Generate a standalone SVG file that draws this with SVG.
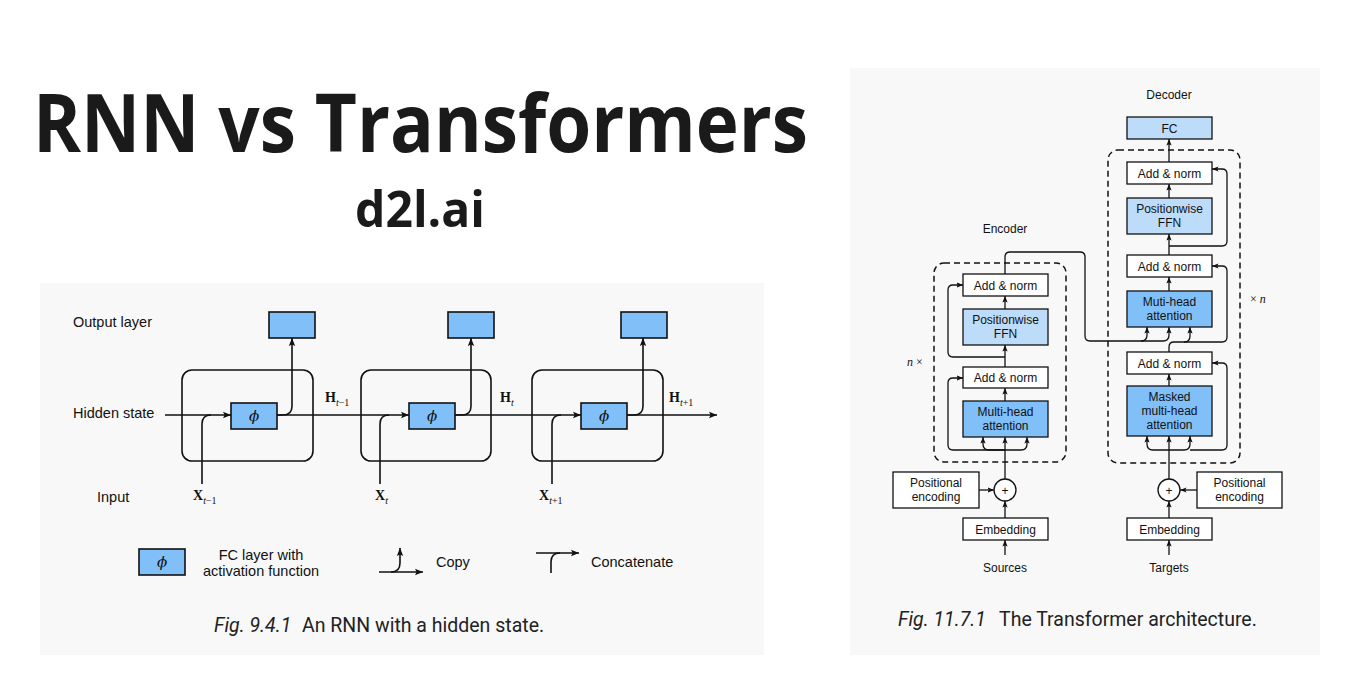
<svg xmlns="http://www.w3.org/2000/svg" width="1358" height="693" viewBox="0 0 1358 693">
<defs>
<style>
.ln{fill:none;stroke:#111;stroke-width:1.6}
.tl{fill:none;stroke:#111;stroke-width:1.3}
.cell{fill:none;stroke:#111;stroke-width:1.6}
.blue{fill:#80bff8;stroke:#111;stroke-width:1.6}
.wb{fill:#fff;stroke:#111;stroke-width:1.3}
.lb{fill:#bcdcfa;stroke:#111;stroke-width:1.3}
.db{fill:#80bff8;stroke:#111;stroke-width:1.3}
.dash{fill:none;stroke:#111;stroke-width:1.5;stroke-dasharray:6 4}
.t{font-family:"Liberation Sans",Arial,sans-serif;font-size:14.5px;fill:#111}
.s{font-family:"Liberation Sans",Arial,sans-serif;font-size:12px;fill:#111;text-anchor:middle}
.m{font-family:"Liberation Serif","DejaVu Serif",serif;fill:#111}
.phi{font-family:"DejaVu Serif","Liberation Serif",serif;font-size:15px;font-style:italic;fill:#111;text-anchor:middle}
.cap{font-family:Roboto,"Liberation Sans",sans-serif;font-size:19.5px;fill:#222}
</style>
<marker id="a" viewBox="0 0 10 10" refX="10" refY="5" markerWidth="8" markerHeight="8" markerUnits="userSpaceOnUse" orient="auto"><path d="M0,1 L10,5 L0,9 L2,5 z" fill="#111"/></marker>
<marker id="b" viewBox="0 0 10 10" refX="10" refY="5" markerWidth="6.5" markerHeight="6.5" markerUnits="userSpaceOnUse" orient="auto"><path d="M0,1 L10,5 L0,9 L2,5 z" fill="#111"/></marker>
</defs>
<rect width="1358" height="693" fill="#fff"/>
<rect x="40" y="283" width="724" height="372" fill="#f8f8f8"/>
<rect x="850" y="68" width="470" height="587" fill="#f8f8f8"/>

<g id="title">
<text x="420.5" y="152" text-anchor="middle" font-family="'Open Sans','Noto Sans',sans-serif" font-weight="bold" font-size="80" fill="#1a1a1a" textLength="775" lengthAdjust="spacingAndGlyphs">RNN vs Transformers</text>
<text x="420" y="227" text-anchor="middle" font-family="'Open Sans','Noto Sans',sans-serif" font-weight="bold" font-size="50" fill="#1a1a1a" textLength="130" lengthAdjust="spacingAndGlyphs">d2l.ai</text>
</g>

<!-- RNN -->
<g id="rnn-labels">
<text class="t" x="73" y="327">Output layer</text>
<text class="t" x="73" y="418">Hidden state</text>
<text class="t" x="97" y="502">Input</text>
</g>
<g id="cell1">
<rect class="cell" x="182" y="370" width="131" height="91" rx="10"/>
<rect class="blue" x="231" y="403" width="46" height="26"/>
<text class="phi" x="254" y="421">ϕ</text>
<rect class="blue" x="269" y="312" width="46" height="26"/>
</g>
<g id="cell2">
<rect class="cell" x="361" y="370" width="130" height="91" rx="10"/>
<rect class="blue" x="409" y="403" width="46" height="26"/>
<text class="phi" x="432" y="421">ϕ</text>
<rect class="blue" x="448" y="312" width="46" height="26"/>
</g>
<g id="cell3">
<rect class="cell" x="532" y="370" width="131" height="91" rx="10"/>
<rect class="blue" x="581" y="403" width="46" height="26"/>
<text class="phi" x="604" y="421">ϕ</text>
<rect class="blue" x="621" y="312" width="46" height="26"/>
</g>
<g id="rnn-connectors">
<path class="ln" d="M165,415 H231" marker-end="url(#a)"/>
<path class="ln" d="M277,415 H409" marker-end="url(#a)"/>
<path class="ln" d="M455,415 H581" marker-end="url(#a)"/>
<path class="ln" d="M627,415 H717" marker-end="url(#a)"/>
<path class="ln" d="M202,484 V424 Q202,415 211,415"/>
<path class="ln" d="M380,484 V424 Q380,415 389,415"/>
<path class="ln" d="M552,484 V424 Q552,415 561,415"/>
<path class="ln" d="M277,415 H283 Q292,415 292,406 V338" marker-end="url(#a)"/>
<path class="ln" d="M455,415 H462 Q471,415 471,406 V338" marker-end="url(#a)"/>
<path class="ln" d="M627,415 H634 Q643,415 643,406 V338" marker-end="url(#a)"/>
</g>
<g id="rnn-math">
<text class="m" x="325" y="402" font-size="14" font-weight="bold">H<tspan font-size="10" font-weight="normal" font-style="italic" dy="4">t</tspan><tspan font-size="10" font-weight="normal">−1</tspan></text>
<text class="m" x="500" y="402" font-size="14" font-weight="bold">H<tspan font-size="10" font-weight="normal" font-style="italic" dy="4">t</tspan></text>
<text class="m" x="669" y="402" font-size="14" font-weight="bold">H<tspan font-size="10" font-weight="normal" font-style="italic" dy="4">t</tspan><tspan font-size="10" font-weight="normal">+1</tspan></text>
<text class="m" x="193" y="500" font-size="14" font-weight="bold">X<tspan font-size="10" font-weight="normal" font-style="italic" dy="4">t</tspan><tspan font-size="10" font-weight="normal">−1</tspan></text>
<text class="m" x="375" y="500" font-size="14" font-weight="bold">X<tspan font-size="10" font-weight="normal" font-style="italic" dy="4">t</tspan></text>
<text class="m" x="539" y="500" font-size="14" font-weight="bold">X<tspan font-size="10" font-weight="normal" font-style="italic" dy="4">t</tspan><tspan font-size="10" font-weight="normal">+1</tspan></text>
</g>
<g id="legend">
<rect class="blue" x="139" y="549" width="46" height="26"/>
<text class="phi" x="162" y="567">ϕ</text>
<text class="t" x="261" y="560" text-anchor="middle">FC layer with</text>
<text class="t" x="261" y="576" text-anchor="middle">activation function</text>
<path class="ln" d="M379,572 H423" marker-end="url(#a)"/>
<path class="ln" d="M391,572 Q400,572 400,563 V548" marker-end="url(#a)"/>
<text class="t" x="436" y="567">Copy</text>
<path class="ln" d="M536,553 H579" marker-end="url(#a)"/>
<path class="ln" d="M551,573 V562 Q551,553 560,553"/>
<text class="t" x="591" y="567">Concatenate</text>
</g>
<g id="rnn-caption">
<text class="cap" x="214" y="632" font-style="italic">Fig. 9.4.1</text>
<text class="cap" x="302" y="632">An RNN with a hidden state.</text>
</g>

<!-- Transformer -->
<g id="encoder">
<text class="s" x="1005" y="233" font-size="12.5">Encoder</text>
<rect class="dash" x="934" y="263" width="132" height="199" rx="10"/>
<rect class="wb" x="963" y="274" width="85" height="22"/>
<text class="s" x="1005.5" y="289.5">Add &amp; norm</text>
<rect class="lb" x="963" y="309" width="85" height="36"/>
<text class="s" x="1005.5" y="324">Positionwise</text>
<text class="s" x="1005.5" y="338">FFN</text>
<rect class="wb" x="963" y="367" width="85" height="21"/>
<text class="s" x="1005.5" y="382">Add &amp; norm</text>
<rect class="db" x="963" y="401" width="85" height="36"/>
<text class="s" x="1005.5" y="416">Multi-head</text>
<text class="s" x="1005.5" y="430">attention</text>
<text class="m" x="907" y="366" font-size="12"><tspan font-style="italic">n</tspan> ×</text>
<circle cx="1005" cy="490" r="11" fill="#fff" stroke="#111" stroke-width="1.3"/>
<text class="s" x="1005" y="495" font-size="14">+</text>
<rect class="wb" x="893" y="472" width="86" height="36"/>
<text class="s" x="936" y="487">Positional</text>
<text class="s" x="936" y="501">encoding</text>
<rect class="wb" x="963" y="518" width="85" height="22"/>
<text class="s" x="1005.5" y="533.5">Embedding</text>
<text class="s" x="1005" y="572">Sources</text>
</g>
<g id="decoder">
<text class="s" x="1169" y="99" font-size="12.5">Decoder</text>
<rect class="lb" x="1127" y="117" width="85" height="22"/>
<text class="s" x="1169.5" y="132.5">FC</text>
<rect class="dash" x="1108" y="150" width="132" height="313" rx="10"/>
<rect class="wb" x="1127" y="162" width="85" height="22"/>
<text class="s" x="1169.5" y="177.5">Add &amp; norm</text>
<rect class="lb" x="1127" y="198" width="85" height="36"/>
<text class="s" x="1169.5" y="213">Positionwise</text>
<text class="s" x="1169.5" y="227">FFN</text>
<rect class="wb" x="1127" y="255" width="85" height="22"/>
<text class="s" x="1169.5" y="270.5">Add &amp; norm</text>
<rect class="db" x="1127" y="291" width="85" height="36"/>
<text class="s" x="1169.5" y="306">Muti-head</text>
<text class="s" x="1169.5" y="320">attention</text>
<rect class="wb" x="1127" y="352" width="85" height="22"/>
<text class="s" x="1169.5" y="367.5">Add &amp; norm</text>
<rect class="db" x="1127" y="386" width="85" height="50"/>
<text class="s" x="1169.5" y="401">Masked</text>
<text class="s" x="1169.5" y="415">multi-head</text>
<text class="s" x="1169.5" y="429">attention</text>
<text class="m" x="1250" y="303" font-size="12">× <tspan font-style="italic">n</tspan></text>
<circle cx="1169" cy="490" r="11" fill="#fff" stroke="#111" stroke-width="1.3"/>
<text class="s" x="1169" y="495" font-size="14">+</text>
<rect class="wb" x="1197" y="472" width="85" height="36"/>
<text class="s" x="1239.5" y="487">Positional</text>
<text class="s" x="1239.5" y="501">encoding</text>
<rect class="wb" x="1127" y="518" width="85" height="22"/>
<text class="s" x="1169.5" y="533.5">Embedding</text>
<text class="s" x="1169" y="572">Targets</text>
</g>
<g id="transformer-connectors">
<path class="tl" d="M1005,309 V296" marker-end="url(#b)"/>
<path class="tl" d="M1005,367 V345" marker-end="url(#b)"/>
<path class="tl" d="M1005,401 V388" marker-end="url(#b)"/>
<path class="tl" d="M1005,357 H953 Q948,357 948,352 V290 Q948,285 953,285 H963" marker-end="url(#b)"/>
<path class="tl" d="M1005,479 V437" marker-end="url(#b)"/>
<path class="tl" d="M1005,450 H953 Q948,450 948,445 V383 Q948,378 953,378 H963" marker-end="url(#b)"/>
<path class="tl" d="M1005,450 H989 Q983,450 983,444 V437" marker-end="url(#b)"/>
<path class="tl" d="M1005,450 H1021 Q1027,450 1027,444 V437" marker-end="url(#b)"/>
<path class="tl" d="M979,490 H994" marker-end="url(#b)"/>
<path class="tl" d="M1005,518 V501" marker-end="url(#b)"/>
<path class="tl" d="M1005,555 V540" marker-end="url(#b)"/>
<path class="tl" d="M1005,274 V257 Q1005,252 1010,252 H1080 Q1085,252 1085,257 V336 Q1085,341 1090,341 H1141 Q1147,341 1147,335 V327" marker-end="url(#b)"/>
<path class="tl" d="M1141,341 H1163 Q1169,341 1169,335 V327" marker-end="url(#b)"/>
<path class="tl" d="M1169,162 V139" marker-end="url(#b)"/>
<path class="tl" d="M1169,198 V184" marker-end="url(#b)"/>
<path class="tl" d="M1169,255 V234" marker-end="url(#b)"/>
<path class="tl" d="M1169,291 V277" marker-end="url(#b)"/>
<path class="tl" d="M1169,386 V374" marker-end="url(#b)"/>
<path class="tl" d="M1169,246 H1222 Q1227,246 1227,241 V174 Q1227,169 1222,169 H1212" marker-end="url(#b)"/>
<path class="tl" d="M1169,352 V347 Q1169,342 1174,342 H1222 Q1227,342 1227,337 V271 Q1227,266 1222,266 H1212" marker-end="url(#b)"/>
<path class="tl" d="M1184,342 Q1190,342 1190,336 V327" marker-end="url(#b)"/>
<path class="tl" d="M1169,479 V436" marker-end="url(#b)"/>
<path class="tl" d="M1169,450 H1153 Q1147,450 1147,444 V436" marker-end="url(#b)"/>
<path class="tl" d="M1169,450 H1184 Q1190,450 1190,444 V436" marker-end="url(#b)"/>
<path class="tl" d="M1190,450 H1222 Q1227,450 1227,445 V368 Q1227,363 1222,363 H1212" marker-end="url(#b)"/>
<path class="tl" d="M1197,490 H1180" marker-end="url(#b)"/>
<path class="tl" d="M1169,518 V501" marker-end="url(#b)"/>
<path class="tl" d="M1169,555 V540" marker-end="url(#b)"/>
</g>
<g id="transformer-caption">
<text class="cap" x="898" y="626" font-style="italic">Fig. 11.7.1</text>
<text class="cap" x="999" y="626">The Transformer architecture.</text>
</g>
</svg>
